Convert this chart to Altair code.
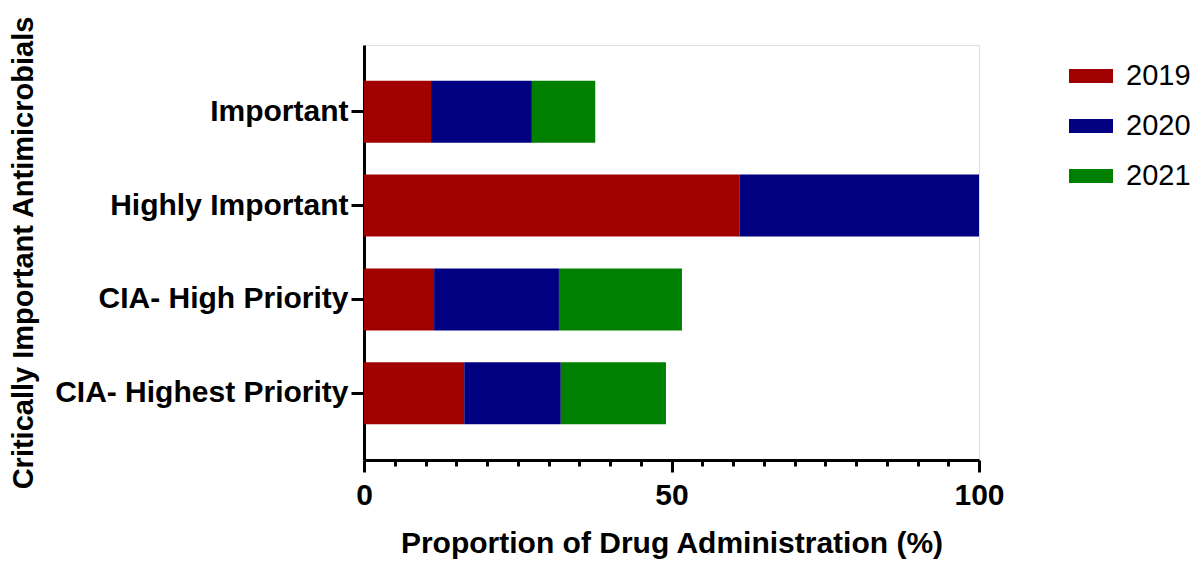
import altair as alt
import pandas as pd

categories = ["Important", "Highly Important", "CIA- High Priority", "CIA- Highest Priority"]
years = ["2019", "2020", "2021"]
v2019 = [10.9, 61.1, 11.4, 16.3]
v2020 = [16.4, 38.9, 20.3, 15.7]
v2021 = [10.3, 0.0, 20.0, 17.1]
colors = ["#A00000", "#000080", "#008000"]
x_ticks = list(range(0, 101, 5))

rows = []
for i, c in enumerate(categories):
    for j, (y, vals) in enumerate(zip(years, [v2019, v2020, v2021])):
        rows.append({"category": c, "year": y, "value": vals[i], "ord": j})
df = pd.DataFrame(rows)

FONT = "Liberation Sans"

chart = alt.Chart(df).mark_bar().encode(
    y=alt.Y("category:N", sort=categories,
            scale=alt.Scale(paddingInner=0.34, paddingOuter=0.38),
            axis=alt.Axis(title="Critically Important Antimicrobials",
                          labelFont=FONT, labelFontSize=30, labelFontWeight="bold",
                          labelColor="black", labelPadding=3, labelLimit=0,
                          titleFont=FONT, titleFontSize=29, titleFontWeight="bold",
                          titleColor="black", titleX=-332, titleBaseline="alphabetic",
                          domainColor="black", domainWidth=3,
                          tickColor="black", tickWidth=3, tickSize=13)),
    x=alt.X("value:Q", stack="zero",
            scale=alt.Scale(domain=[0, 100], nice=False),
            axis=alt.Axis(title="Proportion of Drug Administration (%)",
                          values=x_ticks,
                          labelExpr="datum.value % 50 === 0 ? datum.label : ''",
                          labelFont=FONT, labelFontSize=30, labelFontWeight="bold",
                          labelColor="black", labelPadding=8, labelFlush=False,
                          titleFont=FONT, titleFontSize=30, titleFontWeight="bold",
                          titleColor="black", titlePadding=18,
                          domainColor="black", domainWidth=3,
                          tickColor="black", tickWidth=3,
                          tickSize={"condition": {"test": "datum.value % 50 === 0", "value": 12}, "value": 6},
                          grid=False, labelOverlap=False)),
    color=alt.Color("year:N", scale=alt.Scale(domain=years, range=colors),
                    legend=alt.Legend(title=None, orient="none", legendX=705, legendY=9,
                                      symbolType="M-1,-0.32L1,-0.32L1,0.32L-1,0.32Z",
                                      symbolSize=1936, symbolStrokeWidth=0,
                                      symbolOpacity=1,
                                      labelFont=FONT, labelFontSize=29,
                                      labelColor="black", labelOffset=13,
                                      rowPadding=13)),
    order=alt.Order("ord:Q"),
).properties(
    width=615, height=415,
    autosize=alt.AutoSizeParams(type="none"),
    padding={"left": 356, "top": 37, "right": 213, "bottom": 100},
).configure_view(stroke=None).configure(background="white")

chart.save("out.html", embed_options={"renderer": "svg", "actions": False})
